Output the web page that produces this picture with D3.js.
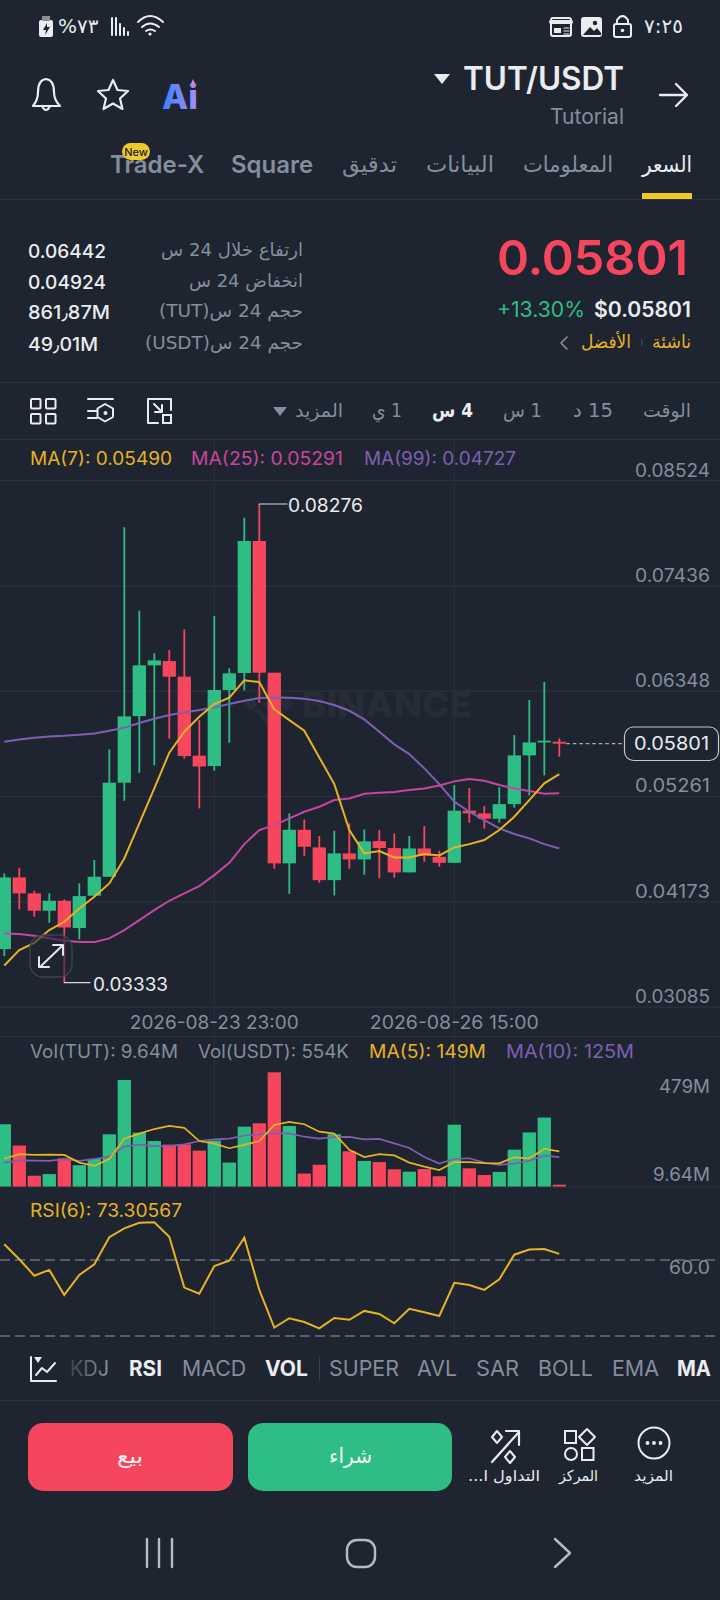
<!DOCTYPE html>
<html lang="ar">
<head>
<meta charset="UTF-8">
<title>TUT/USDT</title>
<script src="https://d3js.org/d3.v7.min.js"></script>
<style>
  html, body { margin: 0; padding: 0; background: #1e2530; }
  svg { display: block; font-family: Inter, "DejaVu Sans", sans-serif; }
</style>
</head>
<body>
<svg width="720" height="1600"></svg>
<script>
// candles
var opens = [0.03680,0.04420,0.04255,0.04076,0.04179,0.03897,0.04231,0.04427,0.05398,0.06086,0.06610,0.06654,0.06493,0.05677,0.05570,0.06355,0.06531,0.07894,0.06534,0.04565,0.04912,0.04730,0.04392,0.04668,0.04606,0.04795,0.04723,0.04472,0.04719,0.04633,0.04571,0.05109,0.05081,0.05026,0.05177,0.05680,0.05814,0.05821];
var highs = [0.04461,0.04520,0.04282,0.04255,0.04193,0.04358,0.04599,0.05742,0.08035,0.07174,0.06734,0.06768,0.06982,0.06045,0.07119,0.06579,0.08135,0.08276,0.06534,0.05081,0.05019,0.04847,0.04902,0.04978,0.04916,0.04909,0.04874,0.04847,0.04950,0.04695,0.05374,0.05343,0.05157,0.05350,0.05890,0.06252,0.06438,0.05856];
var lows = [0.03607,0.04089,0.04014,0.03952,0.03333,0.03780,0.04231,0.04427,0.05212,0.05501,0.05577,0.05852,0.05646,0.05133,0.05522,0.05811,0.06351,0.06224,0.04509,0.04251,0.04644,0.04365,0.04234,0.04509,0.04447,0.04410,0.04416,0.04472,0.04582,0.04530,0.04571,0.04985,0.04923,0.04985,0.05139,0.05267,0.05474,0.05666];
var closes = [0.04420,0.04255,0.04076,0.04179,0.03903,0.04227,0.04427,0.05398,0.06083,0.06610,0.06661,0.06493,0.05673,0.05566,0.06355,0.06527,0.07894,0.06534,0.04565,0.04912,0.04737,0.04392,0.04668,0.04606,0.04792,0.04723,0.04472,0.04719,0.04644,0.04571,0.05109,0.05081,0.05026,0.05177,0.05680,0.05814,0.05832,0.05801];

var ma7 = [0.03511,0.03669,0.03745,0.03876,0.03962,0.04100,0.04220,0.04358,0.04616,0.04978,0.05339,0.05708,0.05925,0.06079,0.06210,0.06276,0.06455,0.06438,0.06155,0.06045,0.05935,0.05659,0.05384,0.04909,0.04668,0.04692,0.04626,0.04626,0.04661,0.04647,0.04730,0.04764,0.04806,0.04909,0.05047,0.05219,0.05391,0.05487];
var ma25 = [0.03842,0.03835,0.03817,0.03793,0.03766,0.03752,0.03752,0.03790,0.03876,0.03979,0.04083,0.04179,0.04255,0.04330,0.04444,0.04571,0.04764,0.04909,0.04960,0.05029,0.05098,0.05150,0.05219,0.05236,0.05284,0.05294,0.05301,0.05322,0.05339,0.05370,0.05412,0.05436,0.05418,0.05374,0.05339,0.05312,0.05284,0.05288];
var ma99 = [0.05821,0.05845,0.05863,0.05876,0.05883,0.05894,0.05907,0.05935,0.05966,0.06014,0.06059,0.06097,0.06124,0.06148,0.06176,0.06210,0.06245,0.06272,0.06279,0.06276,0.06265,0.06241,0.06200,0.06141,0.06052,0.05925,0.05794,0.05694,0.05546,0.05384,0.05202,0.05098,0.05012,0.04926,0.04868,0.04823,0.04764,0.04719];

// volume in millions
var volumes = [262,173,47,54,120,91,118,220,447,227,192,177,178,152,194,102,252,266,479,255,56,93,220,149,109,104,74,64,75,45,260,78,50,63,156,228,290,9.64];
var volMa5 = [118,137,134,135,134,102,88,117,202,223,242,255,247,192,181,162,176,192,259,272,262,231,223,155,125,137,132,102,85,71,104,104,100,99,124,120,159,149];
var volMa10 = [102,111,110,109,116,109,117,127,169,177,171,171,178,192,199,202,215,220,224,224,210,202,208,209,199,201,182,163,125,98,117,120,102,92,98,110,131,125];

var rsi = [66.2,60.3,53.8,56.1,46.2,54.1,58.3,69.0,72.5,74.7,74.9,69.2,49.1,46.7,57.6,59.7,68.8,48.2,33.3,37.0,35.5,33.0,37.1,36.4,39.9,38.7,35.0,40.7,39.4,37.9,51.0,50.1,48.2,52.4,62.1,64.1,64.3,62.4];

var priceTicks = [0.08524,0.07436,0.06348,0.05261,0.04173,0.03085];
var timeIndex = [14,30];
var timeLabels = ["2026-08-23 23:00","2026-08-26 15:00"];
var lastPrice = 0.05801;

var bg = "#1e2530", gridCol = "#2b323c", grey = "#848e9c", white = "#eaecef";
var green = "#2ebd85", red = "#f6465d", yellow = "#e6b325", pink = "#c9459f", purple = "#7e5fb0";

var svg = d3.select("svg");

// o.w stretches the text to a given width, the app font is wider than Inter
function txt(x, y, s, size, fill, o) {
  o = o || {};
  var t = svg.append("text").attr("x", x).attr("y", y).text(s)
    .style("font-size", size + "px").attr("fill", fill)
    .attr("text-anchor", o.anchor || "start")
    .style("font-weight", o.weight || 400);
  if (o.ltr) t.style("direction", "ltr").style("unicode-bidi", "bidi-override");
  if (o.w) t.attr("textLength", o.w).attr("lengthAdjust", "spacingAndGlyphs");
  return t;
}

// arabic text fitted between two x positions
function ar(left, right, y, s, size, fill, weight) {
  return svg.append("text").attr("x", (left + right) / 2).attr("y", y).text(s)
    .attr("text-anchor", "middle").style("direction", "rtl")
    .style("font-family", "'DejaVu Sans'").style("font-size", size + "px")
    .style("font-weight", weight || 400).attr("fill", fill)
    .attr("textLength", right - left).attr("lengthAdjust", "spacingAndGlyphs");
}

function hline(y) {
  svg.append("line").attr("x1", 0).attr("x2", 720).attr("y1", y).attr("y2", y).attr("stroke", gridCol).attr("stroke-width", 1.2);
}

function path(d, stroke, sw, fill) {
  return svg.append("path").attr("d", d).attr("fill", fill || "none").attr("stroke", stroke || "none")
    .attr("stroke-width", sw || 0).attr("stroke-linecap", "round").attr("stroke-linejoin", "round");
}

/* ---------- status bar and header ---------- */
svg.append("rect").attr("x", 39).attr("y", 20).attr("width", 14).attr("height", 17).attr("rx", 2).attr("fill", "#eaecef");
svg.append("rect").attr("x", 42).attr("y", 16).attr("width", 8).attr("height", 5).attr("fill", "#8a9099");
path("M47 23 L43 30 L46 30 L45 35 L50 27 L47 27 Z", null, 0, "#1e2530");
txt(58, 33, "%٧٣", 20, white, { ltr: true }).style("font-family", "'DejaVu Sans'");
path("M112 18V35M116 18V35M120 24V35M124 28V35M128 32V35", white, 2);
path("M138 22 Q150 10 163 22M142 27 Q150 20 159 27M146 31 Q150 28 155 31", white, 2);
svg.append("circle").attr("cx", 150).attr("cy", 34).attr("r", 1.6).attr("fill", white);

svg.append("rect").attr("x", 551).attr("y", 18).attr("width", 20).attr("height", 18).attr("rx", 2).attr("fill", "none").attr("stroke", white).attr("stroke-width", 2);
path("M551 22H571", white, 4);
path("M554 28H561V33H554Z", null, 0, white);
path("M564 28H569M564 31H569M564 34H569", white, 1.2);
svg.append("rect").attr("x", 581).attr("y", 17).attr("width", 21).attr("height", 20).attr("rx", 3).attr("fill", white);
path("M583 35 L590 27 L594 31 L597 28 L601 33 V35 Z", null, 0, "#1e2530");
svg.append("circle").attr("cx", 595).attr("cy", 23).attr("r", 2.2).attr("fill", "#1e2530");
svg.append("rect").attr("x", 614).attr("y", 24).attr("width", 17).attr("height", 13).attr("rx", 2).attr("fill", "none").attr("stroke", white).attr("stroke-width", 2);
path("M617 24 V20 Q622.5 12 628 20 V24", white, 2);
svg.append("circle").attr("cx", 622.5).attr("cy", 30.5).attr("r", 1.8).attr("fill", white);
txt(644, 33, "٧:٢٥", 20, white, { ltr: true }).style("font-family", "'DejaVu Sans'");

// bell, star, Ai
path("M33 106 Q38 100 38 92 Q38 80 46 79 Q54 80 54 92 Q54 100 60 106 Z", white, 2.2);
path("M42 106 Q46 114 50 106", white, 2.2);
path("M113 80 L117.5 90 L128 91 L120 98.5 L122.5 109 L113 103.5 L103.5 109 L106 98.5 L98 91 L108.5 90 Z", white, 2.2);
var defs = svg.append("defs");
var aiGrad = defs.append("linearGradient").attr("id", "aiGrad").attr("x1", 0).attr("x2", 1);
aiGrad.append("stop").attr("offset", "0%").attr("stop-color", "#3b82f6");
aiGrad.append("stop").attr("offset", "100%").attr("stop-color", "#a78bfa");
txt(162, 109, "Ai", 34, "url(#aiGrad)", { weight: 800 });
path("M193 79 L195 83.5 L193 88 L191 83.5 Z", null, 0, "#c58bdc");

path("M434 74 H450 L442 84 Z", null, 0, white);
txt(624, 90, "TUT/USDT", 32, white, { anchor: "end", weight: 600, w: 161 });
txt(624, 124, "Tutorial", 21, grey, { anchor: "end" });
path("M660 95 H686 M676 84 L687 95 L676 106", white, 2.4);

// tabs
ar(642, 692, 172, "السعر", 22, white);
ar(523, 613, 172, "المعلومات", 22, grey);
ar(426, 494, 172, "البيانات", 22, grey);
ar(342, 397, 172, "تدقيق", 22, grey);
txt(231, 173, "Square", 24, grey, { weight: 600 });
txt(110, 173, "Trade-X", 24, grey, { weight: 600 });
svg.append("rect").attr("x", 122).attr("y", 143).attr("width", 28).attr("height", 17).attr("rx", 8.5).attr("fill", "#f0c929");
txt(136, 156, "New", 11, "#1e2530", { anchor: "middle", weight: 500 });
svg.append("rect").attr("x", 642).attr("y", 193).attr("width", 50).attr("height", 6).attr("fill", "#f0c929");
hline(199.5);

/* ---------- price block ---------- */
txt(688, 275, "0.05801", 48, red, { anchor: "end", weight: 600, w: 191 });
txt(497, 317, "+13.30%", 21, green, { w: 88 });
txt(691, 317, "$0.05801", 21, white, { anchor: "end", weight: 600, w: 97 });
ar(652, 691, 348, "ناشئة", 18, yellow);
ar(581, 631, 348, "الأفضل", 18, yellow);
svg.append("rect").attr("x", 641).attr("y", 339).attr("width", 1.5).attr("height", 7).attr("fill", "#3a414c");
path("M567 337 L561 343 L567 349", grey, 1.6);

var statLabels = ["ارتفاع خلال 24 س", "انخفاض 24 س", "حجم 24 س(TUT)", "حجم 24 س(USDT)"];
var statLeft = [161, 189, 159, 145];
var statValues = ["0.06442", "0.04924", "861٫87M", "49٫01M"];
var statY = [258, 289, 319, 351];
var statW = [78, 78, 82, 70];
statLabels.forEach(function(d, i) {
  ar(statLeft[i], 303, statY[i] - 2, d, 18, grey);
  txt(28, statY[i], statValues[i], 19, white, { weight: 500, ltr: true, w: statW[i] });
});
hline(382.5);

/* ---------- time bar ---------- */
ar(643, 691, 417, "الوقت", 19, grey);
ar(573, 613, 417, "15 د", 20, grey);
ar(503, 542, 417, "1 س", 20, grey);
ar(432, 473, 417, "4 س", 20, white, 700);
ar(372, 402, 417, "1 ي", 20, grey);
ar(295, 343, 417, "المزيد", 18, grey);
path("M273 407 H287 L280 416 Z", null, 0, grey);
[[31,399],[46,399],[31,414],[46,414]].forEach(function(d) {
  svg.append("rect").attr("x", d[0]).attr("y", d[1]).attr("width", 9.5).attr("height", 9.5).attr("rx", 1).attr("fill", "none").attr("stroke", white).attr("stroke-width", 2);
});
path("M88 399 H113 M88 411 H97 M88 418 H97", white, 2);
path("M105 404 L113 408.5 V417 L105 421.5 L97.5 417 V408.5 Z", white, 2);
svg.append("circle").attr("cx", 105.5).attr("cy", 413).attr("r", 2).attr("fill", white);
path("M171 410 V399 H148 V423 H158", white, 2);
path("M154 404 L162 412 M162 405 V412 H155", white, 2);
svg.append("rect").attr("x", 163).attr("y", 415).attr("width", 8).attr("height", 8).attr("fill", "none").attr("stroke", white).attr("stroke-width", 2);
hline(439.5);

/* ---------- scales ---------- */
var x = d3.scaleLinear().domain([0, 37]).range([4.3, 559.3]);
var y = d3.scaleLinear().domain([0.03085, 0.08524]).range([1006.7, 480]);
var yVol = d3.scaleLinear().domain([0, 479]).range([1187, 1072.3]);
var yRsi = d3.scaleLinear().domain([30, 60]).range([1336, 1260]);
var bodyW = 13.3;

// vertical grid runs through all three panes
svg.selectAll(".vgrid").data(timeIndex).enter().append("line")
  .attr("x1", function(d) { return x(d); }).attr("x2", function(d) { return x(d); })
  .attr("y1", 440).attr("y2", 1336).attr("stroke", gridCol).attr("stroke-width", 1.2);

// price axis with full width grid
var axis = svg.append("g").attr("transform", "translate(720,0)")
  .call(d3.axisLeft(y).tickValues(priceTicks).tickSize(720).tickFormat(d3.format(".5f")));
axis.select(".domain").remove();
axis.selectAll("line").attr("stroke", gridCol).attr("stroke-width", 1.2);
axis.selectAll("text").attr("x", -10).attr("dy", -4).attr("text-anchor", "end")
  .attr("fill", grey).style("font-size", "18px").style("font-family", "Inter")
  .attr("textLength", 75).attr("lengthAdjust", "spacingAndGlyphs");

// watermark
txt(302, 717, "BINANCE", 34, "#262d38", { weight: 800, w: 170 });
[[251,704,7],[287,704,7],[269,704,6]].forEach(function(d) {
  path("M" + (d[0]-d[2]) + " " + d[1] + " L" + d[0] + " " + (d[1]-d[2]) + " L" + (d[0]+d[2]) + " " + d[1] + " L" + d[0] + " " + (d[1]+d[2]) + " Z", null, 0, "#262d38");
});
path("M258 697 L269 686 L280 697 M258 711 L269 722 L280 711", "#262d38", 6);

/* ---------- candles ---------- */
var idx = d3.range(closes.length);
function col(i) { return closes[i] >= opens[i] ? green : red; }

svg.selectAll(".wick").data(idx).enter().append("line")
  .attr("x1", function(i) { return x(i); }).attr("x2", function(i) { return x(i); })
  .attr("y1", function(i) { return y(highs[i]); }).attr("y2", function(i) { return y(lows[i]); })
  .attr("stroke", col).attr("stroke-width", 1.8);

svg.selectAll(".body").data(idx).enter().append("rect")
  .attr("x", function(i) { return x(i) - bodyW / 2; })
  .attr("width", bodyW)
  .attr("y", function(i) { return y(Math.max(opens[i], closes[i])); })
  .attr("height", function(i) { return Math.max(1.5, Math.abs(y(opens[i]) - y(closes[i]))); })
  .attr("fill", col);

var priceLine = d3.line().x(function(d, i) { return x(i); }).y(function(d) { return y(d); });
[[ma99, purple], [ma25, pink], [ma7, yellow]].forEach(function(m) {
  svg.append("path").datum(m[0]).attr("d", priceLine).attr("fill", "none").attr("stroke", m[1]).attr("stroke-width", 2);
});

txt(30, 465, "MA(7): 0.05490", 18, yellow, { w: 142 });
txt(191, 465, "MA(25): 0.05291", 18, pink, { w: 152 });
txt(364, 465, "MA(99): 0.04727", 18, purple, { w: 152 });

// high / low markers
path("M" + x(17) + " " + y(d3.max(highs)) + " H287", "#d5d8dc", 1.2);
txt(288, 512, "0.08276", 18, white, { w: 75 });
path("M" + x(4) + " " + y(d3.min(lows)) + " H90", "#d5d8dc", 1.2);
txt(93, 991, "0.03333", 18, white, { w: 75 });

// last price
svg.append("line").attr("x1", x(37) + 7).attr("x2", 624).attr("y1", y(lastPrice)).attr("y2", y(lastPrice))
  .attr("stroke", "#a9aeb5").attr("stroke-width", 1.2).attr("stroke-dasharray", "3.5 3");
svg.append("rect").attr("x", 624.5).attr("y", 727).attr("width", 94).attr("height", 33.5).attr("rx", 9)
  .attr("fill", bg).attr("stroke", "#c4c7cc").attr("stroke-width", 1.2);
txt(671.5, 750, "0.05801", 18, white, { anchor: "middle", w: 75 });

// expand button
svg.append("rect").attr("x", 30).attr("y", 935).attr("width", 42).attr("height", 42).attr("rx", 13)
  .attr("fill", bg).attr("fill-opacity", 0.6).attr("stroke", "#3c434e").attr("stroke-width", 1.4);
path("M41 966 L62 946 M53 945 H63 V955 M39 957 V967 H49", "#e4e6ea", 2);

// time labels
svg.selectAll(".time").data(timeLabels).enter().append("text")
  .attr("x", function(d, i) { return x(timeIndex[i]); }).attr("y", 1029)
  .attr("text-anchor", "middle").attr("fill", grey).style("font-size", "18px").text(function(d) { return d; })
  .attr("textLength", 169).attr("lengthAdjust", "spacingAndGlyphs");
hline(1036.5);

/* ---------- volume pane ---------- */
txt(30, 1058, "Vol(TUT): 9.64M", 18, grey, { w: 148 });
txt(198, 1058, "Vol(USDT): 554K", 18, grey, { w: 151 });
txt(369, 1058, "MA(5): 149M", 18, yellow, { w: 117 });
txt(506, 1058, "MA(10): 125M", 18, purple, { w: 128 });
txt(710, 1093, "479M", 18, grey, { anchor: "end", w: 51 });
txt(710, 1181, "9.64M", 18, grey, { anchor: "end", w: 57 });

svg.selectAll(".vol").data(idx).enter().append("rect")
  .attr("x", function(i) { return x(i) - bodyW / 2; })
  .attr("width", bodyW)
  .attr("y", function(i) { return yVol(volumes[i]); })
  .attr("height", function(i) { return yVol(0) - yVol(volumes[i]); })
  .attr("fill", col);
hline(1187);

var volLine = d3.line().x(function(d, i) { return x(i); }).y(function(d) { return yVol(d); });
[[volMa10, purple], [volMa5, yellow]].forEach(function(m) {
  svg.append("path").datum(m[0]).attr("d", volLine).attr("fill", "none").attr("stroke", m[1]).attr("stroke-width", 1.7);
});

/* ---------- RSI pane ---------- */
txt(30, 1217, "RSI(6): 73.30567", 18, yellow, { w: 152 });
[60, 30].forEach(function(d) {
  svg.append("line").attr("x1", 0).attr("x2", 720).attr("y1", yRsi(d)).attr("y2", yRsi(d))
    .attr("stroke", "#8f96a0").attr("stroke-width", 1.2).attr("stroke-dasharray", "10 5");
});
txt(710, 1274, "60.0", 18, grey, { anchor: "end", w: 41 });
var rsiLine = d3.line().x(function(d, i) { return x(i); }).y(function(d) { return yRsi(d); });
svg.append("path").datum(rsi).attr("d", rsiLine).attr("fill", "none").attr("stroke", yellow).attr("stroke-width", 2);

/* ---------- indicator tabs ---------- */
path("M31 1357 V1381 H56 M36 1375 L42 1368 L47 1372 L55 1363", white, 2);
path("M34 1357 H42 L38 1363 Z", null, 0, white);
var kdjGrad = defs.append("linearGradient").attr("id", "kdjGrad").attr("gradientUnits", "userSpaceOnUse")
  .attr("x1", 70).attr("x2", 105).attr("y1", 0).attr("y2", 0);
kdjGrad.append("stop").attr("offset", "0%").attr("stop-color", "#3c434d");
kdjGrad.append("stop").attr("offset", "100%").attr("stop-color", grey);
var tabNames = ["KDJ","RSI","MACD","VOL","SUPER","AVL","SAR","BOLL","EMA","MA"];
var tabX = [70,129,182,265,329,417,476,538,612,677];
var tabW = [39,33,64,43,70,40,43,55,47,34];
var tabOn = [false,true,false,true,false,false,false,false,false,true];
tabNames.forEach(function(d, i) {
  txt(tabX[i], 1376, d, 21, tabOn[i] ? white : (i == 0 ? "url(#kdjGrad)" : grey), { weight: tabOn[i] ? 700 : 400, w: tabW[i] });
});
svg.append("rect").attr("x", 319).attr("y", 1357).attr("width", 1).attr("height", 23).attr("fill", "#3a414c");
hline(1400.5);

/* ---------- buy / sell row ---------- */
svg.append("rect").attr("x", 28).attr("y", 1423).attr("width", 205).attr("height", 68).attr("rx", 15).attr("fill", "#f6465d");
svg.append("rect").attr("x", 248).attr("y", 1423).attr("width", 204).attr("height", 68).attr("rx", 15).attr("fill", "#2ebd85");
ar(117, 143, 1463, "بيع", 21, "#fdf0f1");
ar(329, 372, 1463, "شراء", 21, "#f1fbf7");

path("M492 1462 L519 1432 M506 1431 H519 V1445", white, 2.2);
path("M497 1431 L502 1437 L497 1443 L492 1437 Z M510 1451 L515 1457 L510 1463 L505 1457 Z", white, 2);
svg.append("rect").attr("x", 565).attr("y", 1431).attr("width", 11).attr("height", 12).attr("fill", "none").attr("stroke", white).attr("stroke-width", 2);
path("M587 1429 L595 1437 L587 1445 L579 1437 Z", white, 2);
svg.append("circle").attr("cx", 571).attr("cy", 1454).attr("r", 6).attr("fill", "none").attr("stroke", white).attr("stroke-width", 2);
svg.append("rect").attr("x", 582).attr("y", 1448).attr("width", 11.5).attr("height", 12).attr("fill", "none").attr("stroke", white).attr("stroke-width", 2);
svg.append("circle").attr("cx", 654).attr("cy", 1443).attr("r", 15.5).attr("fill", "none").attr("stroke", white).attr("stroke-width", 2);
[647.5, 654, 660.5].forEach(function(d) {
  svg.append("circle").attr("cx", d).attr("cy", 1443).attr("r", 1.9).attr("fill", white);
});
ar(468, 540, 1481, "التداول ا...", 15, white);
ar(559, 598, 1481, "المركز", 15, white);
ar(634, 673, 1481, "المزيد", 15, white);

/* ---------- navigation bar ---------- */
path("M147 1539 V1567 M159 1539 V1567 M172 1539 V1567", "#b8bcc2", 2.4);
svg.append("rect").attr("x", 347).attr("y", 1540).attr("width", 28).attr("height", 27).attr("rx", 10).attr("fill", "none").attr("stroke", "#b8bcc2").attr("stroke-width", 2.4);
path("M555 1539 L570 1553 L555 1567", "#b8bcc2", 2.4);
</script>
</body>
</html>
